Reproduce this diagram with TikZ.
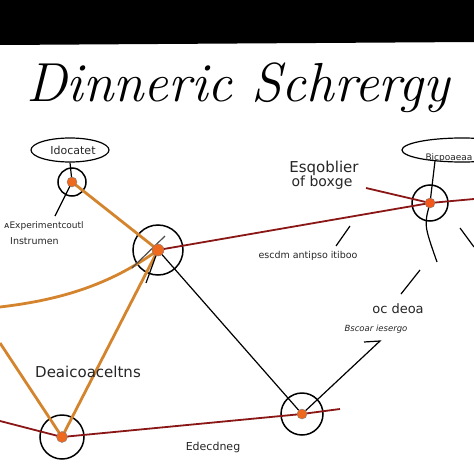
\documentclass[tikz,border=0pt]{standalone}
\usepackage{fontspec}
\setsansfont{DejaVu Sans}
\usepackage{tikz}
\usetikzlibrary{shapes.geometric}
\definecolor{linkorange}{RGB}{212,132,44}
\definecolor{linkred}{RGB}{138,22,22}
\definecolor{dotorange}{RGB}{238,104,30}
\newcommand{\lblsize}[1]{\sffamily\fontsize{#1}{#1}\selectfont}

\begin{document}
\begin{tikzpicture}[x=1pt, y=-1pt,
    hub/.style={circle, draw, line width=1.5pt, inner sep=0pt},
    dot/.style={circle, fill=dotorange, draw=black!50, inner sep=0pt, minimum size=9pt},
    tag/.style={ellipse, draw, line width=1.2pt, inner sep=0pt},
    orangelink/.style={linkorange, line width=2.8pt},
    redlink/.style={linkred, line width=1.8pt},
    wire/.style={line width=1.2pt},
    lbl/.style={text=black!85, inner sep=1pt}]
      \useasboundingbox (0,0) rectangle (474,474);
      \fill[white] (0,0) rectangle (474,474);
      \fill[black] (0,0) -- (474,0) -- (474,42) -- (0,45) -- cycle;
      \node[font=\itshape\fontsize{55}{60}\selectfont, anchor=base] (title) at (238,101) {Dinneric Schrergy};

      % hubs
      \node[hub, minimum size=28pt] (a) at (72,182) {};
      \node[hub, minimum size=50pt] (b) at (158,250) {};
      \node[hub, minimum size=36pt] (c) at (430,203) {};
      \node[hub, minimum size=42pt] (d) at (302,414) {};
      \node[hub, minimum size=44pt] (e) at (62,437) {};

      % tags above the hubs
      \node[tag, minimum width=78pt, minimum height=24pt] (atag) at (70,150) {};
      \node[lbl, font=\lblsize{11}] (atext) at (73,150) {Idocatet};
      \node[tag, minimum width=120pt, minimum height=24pt] (ctag) at (462,150) {};
      \node[lbl, font=\lblsize{9}] (ctext) at (449,158) {Bicpoaeaa};

      % free ends
      \coordinate (w1) at (0,307);
      \coordinate (w2) at (0,343);
      \coordinate (w3) at (0,421);
      \coordinate (e1) at (474,199);
      \coordinate (c1) at (366,188);
      \coordinate (d1) at (340,409);
      \coordinate (k1) at (364,342);
      \coordinate (k2) at (380,341);
      \coordinate (a1) at (55,216);
      \coordinate (c2) at (437,262);
      \coordinate (c3) at (435,161);
      \coordinate (b1) at (165,236);
      \coordinate (b2) at (132,268);
      \coordinate (b3) at (146,283);

      % links
      \draw[orangelink] (a.center) -- (b.center);
      \draw[orangelink] (w1) .. controls (60,300) and (110,285) .. (b.center);
      \draw[orangelink] (e.center) -- (b.center);
      \draw[orangelink] (w2) -- (e.center);
      \draw[redlink] (w3) -- (e.center);
      \draw[redlink] (e.center) -- (d.center);
      \draw[redlink] (d.center) -- (d1);
      \draw[redlink] (b.center) -- (c.center);
      \draw[redlink] (c.center) -- (e1);
      \draw[redlink] (c1) -- (c.center);
      \draw[wire] (b.center) -- (d.center);
      \draw[wire] (k1) -- (k2) -- (d.center);
      \draw[wire] (atag.south) -- (a.center) -- (a1);
      \draw[wire] (c3) -- (c.center) .. controls (424,225) .. (c2);
      \draw[wire, black!70] (b1) -- (b2);
      \draw[wire] (b.center) -- (b3);

      % loose strokes
      \draw[wire] (350,226) -- (336,246);
      \draw[wire] (460,228) -- (474,247);
      \draw[wire] (420,270) -- (401,294);

      % dots
      \node[dot, minimum size=10pt] (a0) at (a) {};
      \node[dot, minimum size=12pt] (b0) at (b) {};
      \node[dot, minimum size=10pt, fill=dotorange!85!red] (c0) at (c) {};
      \node[dot, minimum size=10pt] (d0) at (d) {};
      \node[dot, minimum size=11pt] (e0) at (e) {};

      % labels
      \node[lbl, anchor=west, font=\lblsize{9}] (l1) at (3,226) {ᴀExperimentcoutl};
      \node[lbl, anchor=west, font=\lblsize{9.5}] (l2) at (9,241) {Instrumen};
      \node[lbl, font=\lblsize{15}] (l3) at (324,168) {Esqoblier};
      \node[lbl, font=\lblsize{14}] (l4) at (322,183) {of boxge};
      \node[lbl, font=\lblsize{9.5}] (l5) at (308,256) {escdm antipso itiboo};
      \node[lbl, font=\lblsize{13}] (l6) at (398,309) {oc deoa};
      \node[lbl, font=\lblsize{8.5}\itshape] (l7) at (376,329) {Bscoar iesergo};
      \node[lbl, font=\lblsize{15}] (l8) at (88,372) {Deaicoaceltns};
      \node[lbl, font=\lblsize{11}] (l9) at (213,447) {Edecdneg};
\end{tikzpicture}
\end{document}
